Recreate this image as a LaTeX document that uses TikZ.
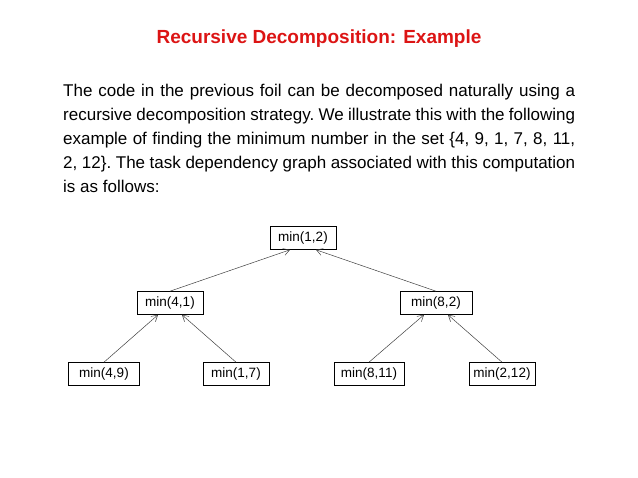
\documentclass[tikz,border=0pt]{standalone}
\usepackage{fontspec}
\setmainfont{Liberation Sans}
\usetikzlibrary{arrows.meta}
\definecolor{titlered}{RGB}{220,20,20}
\begin{document}
\begin{tikzpicture}[x=1pt,y=-1pt,
  task/.style={draw,line width=0.6pt,minimum width=66pt,minimum height=23pt,inner sep=2pt,font=\fontsize{13.5}{15}\selectfont},
  dep/.style={draw=black!75,line width=0.5pt,-{Straight Barb[length=6pt,width=7pt]}}]
\useasboundingbox (0,0) rectangle (638,478);
\node[font=\fontsize{19}{22}\selectfont\bfseries,text=titlered] (title) at (319,39) {Recursive Decomposition: Example};
\node[anchor=north west,text width=512pt,align=justify,inner sep=0pt,font=\fontsize{17}{24}\selectfont] (body) at (63,84)
{\frenchspacing\hyphenpenalty=10000\relax\exhyphenpenalty=10000\relax The code in the previous foil can be decomposed naturally using a recursive decomposition strategy. We illustrate this with the following example of finding the minimum number in the set \{4, 9, 1, 7, 8, 11, 2, 12\}. The task dependency graph associated with this computation is as follows:};
\node[task] (r) at (303,238) {min(1,2)};
\node[task] (a) at (170,303) {min(4,1)};
\node[task,minimum width=72pt] (b) at (436,303) {min(8,2)};
\node[task,minimum width=71pt] (a1) at (104,374) {min(4,9)};
\node[task] (a2) at (236,374) {min(1,7)};
\node[task,minimum width=70pt] (b1) at (369,374) {min(8,11)};
\node[task] (b2) at (502,374) {min(2,12)};
\draw[dep] (a.north) -- ([xshift=-13pt]r.south);
\draw[dep] (b.north) -- ([xshift=13pt]r.south);
\draw[dep] (a1.north) -- ([xshift=-12pt]a.south);
\draw[dep] (a2.north) -- ([xshift=12pt]a.south);
\draw[dep] (b1.north) -- ([xshift=-12pt]b.south);
\draw[dep] (b2.north) -- ([xshift=12pt]b.south);
\end{tikzpicture}
\end{document}
